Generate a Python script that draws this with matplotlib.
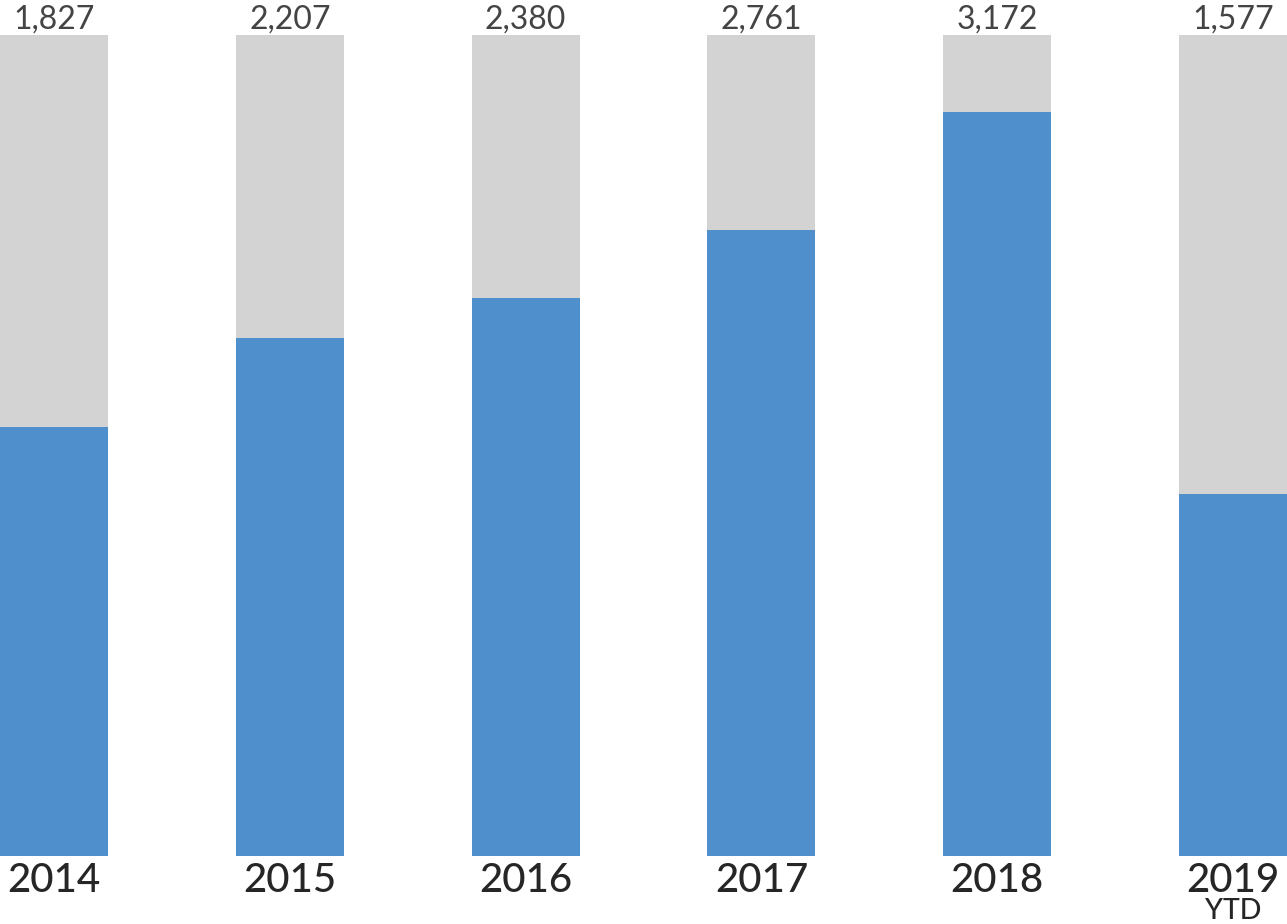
import matplotlib.pyplot as plt
import numpy as np

anni = ["2014", "2015", "2016", "2017", "2018", "2019"]
totali = [1827, 2207, 2380, 2761, 3172, 1577]
blu = [1827, 2207, 2380, 2670, 3172, 1545]
massimo = 3500

fig = plt.figure(figsize=(12.87, 9.24), dpi=100)
ax = fig.add_axes([0, 68 / 924, 1, 821 / 924])

x = np.arange(len(anni))
larghezza = 0.458
ax.bar(x, [massimo] * len(anni), width=larghezza, color="#d3d3d3")
ax.bar(x, blu, width=larghezza, color="#4f90cc")

ax.set_xlim(-larghezza / 2, len(anni) - 1 + larghezza / 2)
ax.set_ylim(0, massimo)
ax.axis("off")

for i, v in enumerate(totali):
    ax.text(x[i], massimo, f"{v:,}", ha="center", va="bottom", fontsize=23,
            family="Lato", fontweight="normal", color="#444444")
    ax.annotate(anni[i], (x[i], 0), xytext=(0, -4.5), textcoords="offset points",
                ha="center", va="top", fontsize=29, family="Lato",
                fontweight="medium", color="#262626")

ax.annotate("YTD", (x[-1], 0), xytext=(0, -30.5), textcoords="offset points",
            ha="center", va="top", fontsize=20.5, family="Lato",
            fontweight="medium", color="#262626")

fig.savefig("out.png", dpi=100)
